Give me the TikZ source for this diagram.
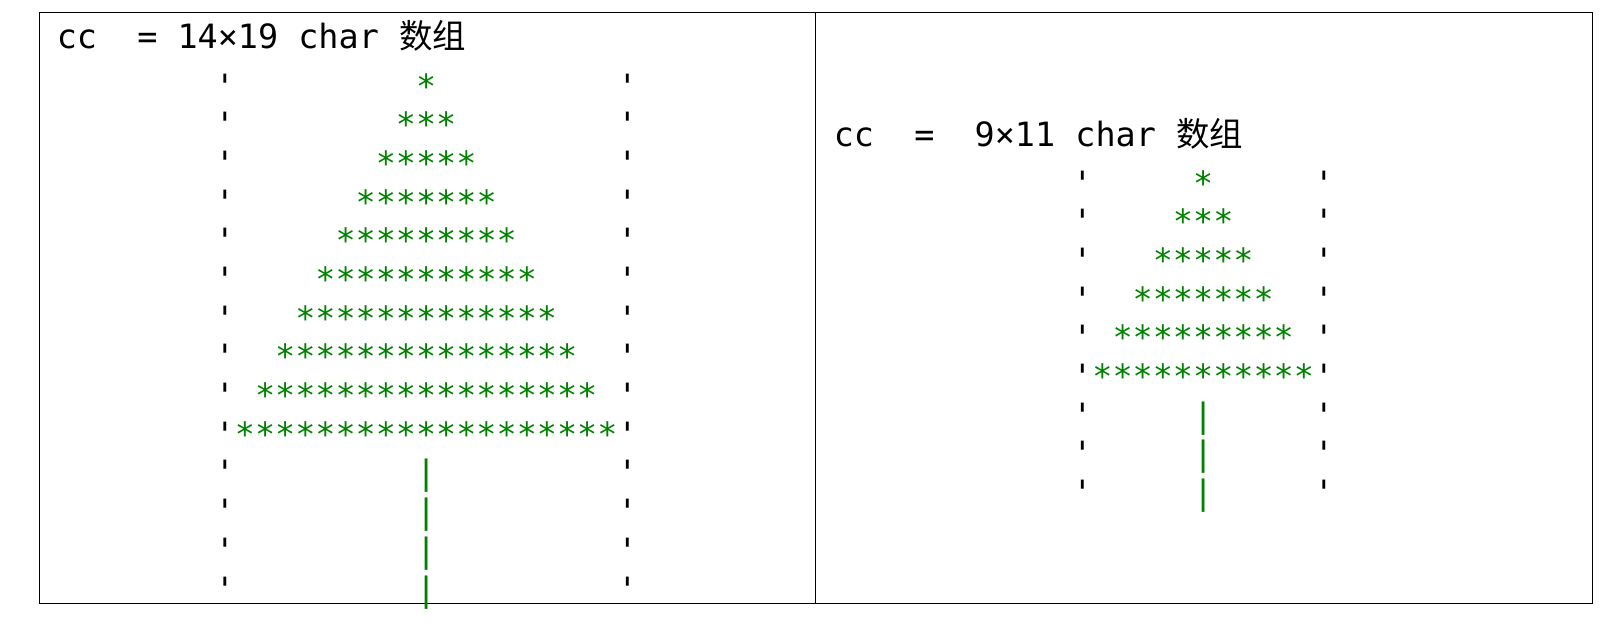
\documentclass[tikz,border=0pt]{standalone}
\usepackage{fontspec}
\newfontfamily\mono{DejaVu Sans Mono}
\newfontfamily\cjk{Noto Sans CJK SC}
\definecolor{tg}{RGB}{0,130,0}
\begin{document}
\begin{tikzpicture}[x=0.75bp,y=-0.75bp,
  txt/.style={inner sep=0,outer sep=0,font=\mono\fontsize{24.4}{28}\selectfont},
  tree/.style={txt,text=tg,anchor=base},
  q/.style={txt,anchor=base}]
\useasboundingbox (0,0) rectangle (1568,608.5);
\draw[line width=0.8pt] (38,12) rectangle (1543,585);
\draw[line width=0.8pt] (790,12) -- (790,585);
\node[q,anchor=base west] (h1) at (55,47) {cc\ \ = 14×19 char {\cjk 数组}};
\node[q,anchor=base west] (h2) at (808,142) {cc\ \ =\ \ 9×11 char {\cjk 数组}};
% left tree
\foreach \i/\s in {1/*,2/***,3/*****,4/*******,5/*********,6/***********,7/*************,8/***************,9/*****************,10/*******************}{
  \node[tree] (l\i) at (413,{95+37.5*(\i-1)}) {\s};
}
\foreach \i in {11,12,13,14}{
  \node[tree] (l\i) at (413,{95+37.5*(\i-1)}) {|};
}
\foreach \i in {1,...,14}{
  \node[q] (la\i) at (218,{95+37.5*(\i-1)}) {'};
  \node[q] (lb\i) at (608,{95+37.5*(\i-1)}) {'};
}
% right tree
\foreach \i/\s in {1/*,2/***,3/*****,4/*******,5/*********,6/***********}{
  \node[tree] (r\i) at (1166,{189+37.5*(\i-1)}) {\s};
}
\foreach \i in {7,8,9}{
  \node[tree] (r\i) at (1166,{189+37.5*(\i-1)}) {|};
}
\foreach \i in {1,...,9}{
  \node[q] (ra\i) at (1049,{189+37.5*(\i-1)}) {'};
  \node[q] (rb\i) at (1283,{189+37.5*(\i-1)}) {'};
}
\end{tikzpicture}
\end{document}
